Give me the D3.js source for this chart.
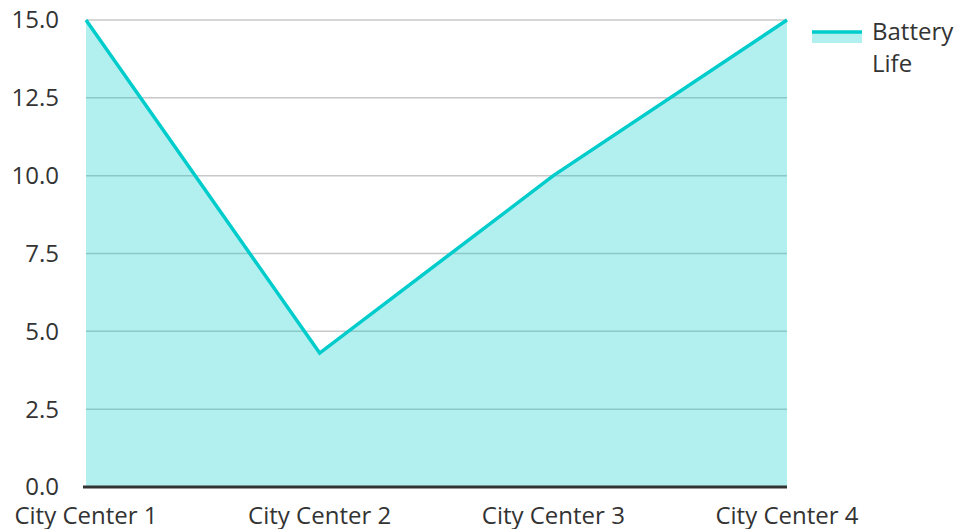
<!DOCTYPE html>
<html>
<head>
<meta charset="utf-8">
<script src="https://cdn.jsdelivr.net/npm/d3@7"></script>
<style>
  body { margin: 0; background: #fff; }
  svg text { font-family: "Open Sans", "Noto Sans", sans-serif; fill: #333; }
</style>
</head>
<body>
<div id="chart"></div>
<script>
// data
const categories = ["City Center 1", "City Center 2", "City Center 3", "City Center 4"];
const batteryLife = [15, 4.3, 10, 15];
const yTicks = [0, 2.5, 5, 7.5, 10, 12.5, 15];
const seriesName = ["Battery", "Life"];

const width = 960, height = 529;
const plotLeft = 86, plotRight = 787, plotTop = 20, plotBottom = 487;
const lineColor = "#00cccc";
const fontSize = 24;

const svg = d3.select("#chart").append("svg")
    .attr("width", width)
    .attr("height", height);

const x = d3.scalePoint()
    .domain(categories)
    .range([plotLeft, plotRight]);

const y = d3.scaleLinear()
    .domain([0, 15])
    .range([plotBottom, plotTop]);

// gridlines
svg.append("g")
    .selectAll("line")
    .data(yTicks.filter(d => d > 0))
    .join("line")
    .attr("x1", plotLeft)
    .attr("x2", plotRight)
    .attr("y1", d => y(d))
    .attr("y2", d => y(d))
    .attr("stroke", "#c8c8c8")
    .attr("stroke-width", 1.5);

// y tick labels
svg.append("g")
    .selectAll("text")
    .data(yTicks)
    .join("text")
    .attr("x", 59)
    .attr("y", d => y(d))
    .attr("dy", "0.35em")
    .attr("text-anchor", "end")
    .attr("font-size", fontSize)
    .text(d => d.toFixed(1));

// area + line
const area = d3.area()
    .x((d, i) => x(categories[i]))
    .y0(y(0))
    .y1(d => y(d));

const line = d3.line()
    .x((d, i) => x(categories[i]))
    .y(d => y(d));

svg.append("path")
    .datum(batteryLife)
    .attr("d", area)
    .attr("fill", lineColor)
    .attr("fill-opacity", 0.3);

svg.append("path")
    .datum(batteryLife)
    .attr("d", line)
    .attr("fill", "none")
    .attr("stroke", lineColor)
    .attr("stroke-width", 3.5);

// x axis
svg.append("line")
    .attr("x1", plotLeft - 3)
    .attr("x2", plotRight)
    .attr("y1", plotBottom)
    .attr("y2", plotBottom)
    .attr("stroke", "#333")
    .attr("stroke-width", 3);

svg.append("g")
    .selectAll("text")
    .data(categories)
    .join("text")
    .attr("x", d => x(d))
    .attr("y", 524)
    .attr("text-anchor", "middle")
    .attr("font-size", fontSize)
    .text(d => d);

// legend
const lg = svg.append("g");
lg.append("rect")
    .attr("x", 812)
    .attr("y", 32)
    .attr("width", 50)
    .attr("height", 11)
    .attr("fill", lineColor)
    .attr("fill-opacity", 0.3);
lg.append("line")
    .attr("x1", 812)
    .attr("x2", 862)
    .attr("y1", 32)
    .attr("y2", 32)
    .attr("stroke", lineColor)
    .attr("stroke-width", 3.5);
lg.append("g")
    .selectAll("text")
    .data(seriesName)
    .join("text")
    .attr("x", 872)
    .attr("y", (d, i) => 40 + i * 32)
    .attr("font-size", fontSize)
    .text(d => d);
</script>
</body>
</html>
